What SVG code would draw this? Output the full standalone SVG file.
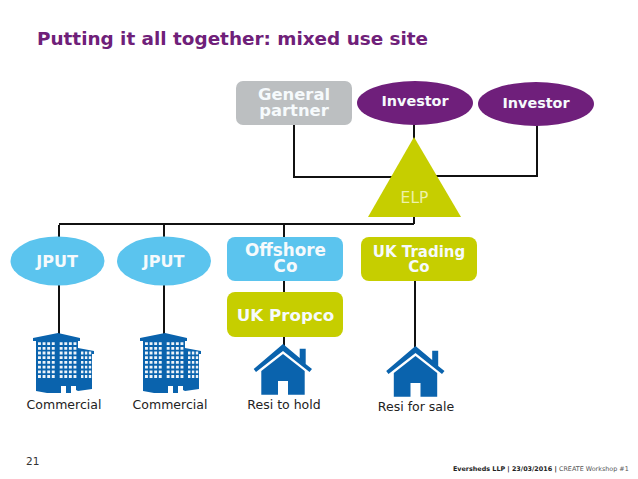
<svg xmlns="http://www.w3.org/2000/svg" width="638" height="479" viewBox="0 0 638 479">
<style>
text{font-family:"DejaVu Sans",Verdana,sans-serif}
.w{fill:#f6fafc;font-weight:700;text-anchor:middle}
.l{fill:#222;font-size:12.5px;text-anchor:middle}
.c{fill:none;stroke:#111;stroke-width:2}
.b{fill:#0a63ad}
</style>
<defs>
<g id="bld">
<path class="b" d="M0 5L25 0 47 5V8H45V15L61 18V21H59V56L45 58 43 57V53H38V60H33V53H28V60L14 60 3 58V8H0Z"/>
<path d="M5 10.6H23M5 15.3H23M5 20H23M5 24.7H23M5 29.4H23M5 34.1H23M5 38.8H23M5 43.5H23M26.7 10.6H44M26.7 15.3H44M26.7 20H44M26.7 24.7H44M26.7 29.4H44M26.7 34.1H44M26.7 38.8H44M26.7 43.5H44" stroke="#eef4f9" stroke-width="2.8" stroke-dasharray="2.9 1.7" fill="none"/>
<path d="M48 24.7H59M48 29.4H59M48 34.1H59M48 38.8H59M48 43.5H59M48 20H59" stroke="#eef4f9" stroke-width="2.8" stroke-dasharray="2.4 1.5" fill="none"/>
</g>
<g id="hse">
<path class="b" d="M0.7 25L30 0 46.7 14V4.7H52.7V20L59 25 56.5 28 30 7 3 28Z"/>
<path class="b" d="M8.3 27L30 10 51.7 27V50.7H35V37H25V50.7H8.3Z"/>
</g>
</defs>
<rect width="638" height="479" fill="#fff"/>
<text x="37" y="45" font-size="18.4" font-weight="700" fill="#6f2079">Putting it all together: mixed use site</text>
<g id="connectors">
<path class="c" d="M294 125V177H392M414 124V150M537 125V176H436M414 205V224M59 225V239M59 224H414M164 224V239M284 224V240M284 280V293M59 284V335M164 284V335M284 337V346M415 280V347"/>
</g>
<g id="general-partner"><rect x="236" y="81" width="116" height="44" rx="7" fill="#bcbfc1"/><text class="w" font-size="16.4"><tspan x="294" y="100">General</tspan><tspan x="294" y="116">partner</tspan></text></g>
<g id="investor-1"><ellipse cx="415" cy="103" rx="58" ry="22" fill="#6f1f7b"/><text class="w" x="415" y="106" font-size="14.4">Investor</text></g>
<g id="investor-2"><ellipse cx="536" cy="104" rx="58" ry="22" fill="#6f1f7b"/><text class="w" x="536" y="108" font-size="14.4">Investor</text></g>
<g id="elp"><path d="M414 137L461 217H368Z" fill="#c6ce00"/><text x="414.5" y="203" font-size="15.5" text-anchor="middle" fill="#eef2a8">ELP</text></g>
<g id="jput-1"><ellipse cx="57.5" cy="261" rx="47" ry="24.5" fill="#5bc4ee"/><text class="w" x="57" y="267" font-size="16">JPUT</text></g>
<g id="jput-2"><ellipse cx="164" cy="261" rx="47" ry="24.5" fill="#5bc4ee"/><text class="w" x="163.5" y="267" font-size="16">JPUT</text></g>
<g id="offshore-co"><rect x="227" y="237" width="116" height="44" rx="8" fill="#5bc4ee"/><text class="w" font-size="16.8"><tspan x="285.5" y="256">Offshore</tspan><tspan x="285.5" y="272">Co</tspan></text></g>
<g id="uk-trading-co"><rect x="361" y="237" width="116" height="44" rx="8" fill="#c6ce00"/><text class="w" font-size="15"><tspan x="419" y="257">UK Trading</tspan><tspan x="419" y="272">Co</tspan></text></g>
<g id="uk-propco"><rect x="227" y="292" width="116" height="45" rx="8" fill="#c6ce00"/><text class="w" x="285.5" y="321" font-size="16.7">UK Propco</text></g>
<g id="commercial-1"><use href="#bld" x="33" y="333"/><text class="l" x="64" y="409">Commercial</text></g>
<g id="commercial-2"><use href="#bld" x="140" y="333"/><text class="l" x="170" y="409">Commercial</text></g>
<g id="resi-hold"><use href="#hse" x="253" y="344"/><text class="l" x="284" y="409">Resi to hold</text></g>
<g id="resi-sale"><use href="#hse" x="385.5" y="346"/><text class="l" x="416" y="411">Resi for sale</text></g>
<text x="26" y="465" font-size="10.5" fill="#333">21</text>
<text x="453" y="471" font-size="6.4" fill="#222"><tspan font-weight="700">Eversheds LLP | 23/03/2016 | </tspan><tspan fill="#555">CREATE Workshop #1</tspan></text>
</svg>
